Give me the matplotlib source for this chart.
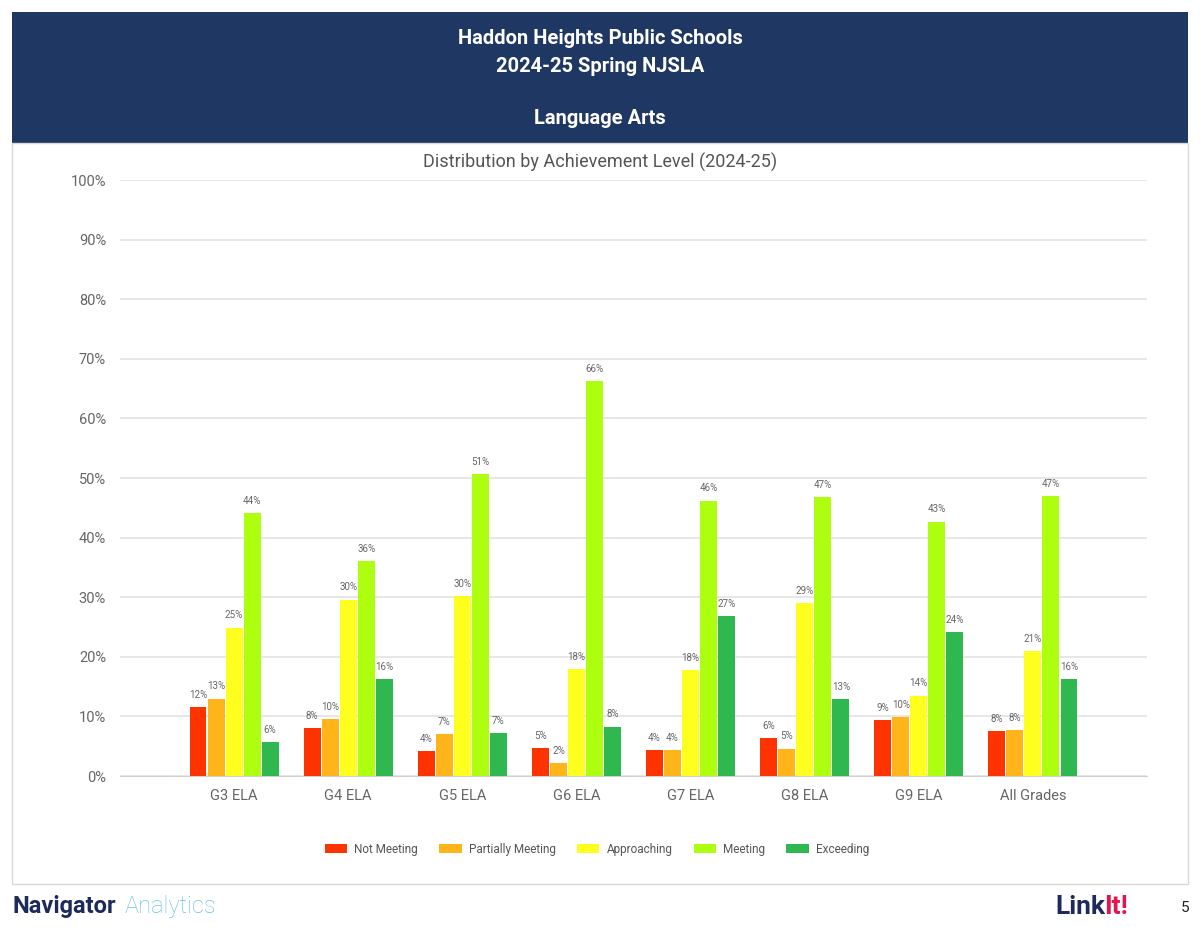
import matplotlib.pyplot as plt
from matplotlib.patches import Rectangle
import numpy as np

plt.rcParams["font.family"] = ["Roboto", "DejaVu Sans"]

CATEGORIES = ["G3 ELA", "G4 ELA", "G5 ELA", "G6 ELA", "G7 ELA", "G8 ELA", "G9 ELA", "All Grades"]
LEVELS = ["Not Meeting", "Partially Meeting", "Approaching", "Meeting", "Exceeding"]
NOT_MEETING = [11.6, 8.0, 4.2, 4.75, 4.3, 6.3, 9.4, 7.6]
PARTIALLY_MEETING = [13.0, 9.6, 7.0, 2.2, 4.3, 4.6, 9.95, 7.7]
APPROACHING = [24.9, 29.6, 30.2, 17.9, 17.8, 29.0, 13.5, 21.0]
MEETING = [44.1, 36.0, 50.7, 66.2, 46.2, 46.8, 42.7, 47.0]
EXCEEDING = [5.65, 16.2, 7.2, 8.3, 26.8, 12.9, 24.1, 16.2]
Y_TICKS = [0, 10, 20, 30, 40, 50, 60, 70, 80, 90, 100]

COLORS = ["#FF3300", "#FFB419", "#FFFF1F", "#AEFF0F", "#2EB84F"]
SERIES = [NOT_MEETING, PARTIALLY_MEETING, APPROACHING, MEETING, EXCEEDING]

fig = plt.figure(figsize=(12.0, 9.27), dpi=100)
W, H = 1200, 927


def fx(px):
    return px / W


def fy(py):
    return 1 - py / H


# header band and chart panel
fig.patches.append(Rectangle((fx(12), fy(143)), fx(1176), 131 / H, transform=fig.transFigure,
                             facecolor="#1F3763", edgecolor="none", zorder=0))
fig.patches.append(Rectangle((fx(12), fy(884)), fx(1176), 741 / H, transform=fig.transFigure,
                             facecolor="none", edgecolor="#D9D9D9", linewidth=1.0, zorder=0))

for text, py in [("Haddon Heights Public Schools", 38), ("2024-25 Spring NJSLA", 66), ("Language Arts", 119)]:
    fig.text(0.5, fy(py), text, ha="center", va="center", color="white",
             fontsize=14.5, fontweight="bold")

fig.text(0.5, fy(162), "Distribution by Achievement Level (2024-25)", ha="center", va="center",
         color="#555555", fontsize=13)

ax = fig.add_axes((fx(120), fy(776), fx(1147 - 120), (776 - 180) / H))
ax.patch.set_alpha(0)
x = np.arange(len(CATEGORIES))
step = 0.158
width = 0.148
for i, (values, color, label) in enumerate(zip(SERIES, COLORS, LEVELS)):
    pos = x + (i - 2) * step
    ax.bar(pos, values, width=width, color=color, label=label, zorder=3)
    for xp, v in zip(pos, values):
        ax.text(xp, v + 1.2, f"{v:.0f}%", ha="center", va="bottom", fontsize=7, color="#666666")

ax.set_xlim(-1, 8)
ax.set_ylim(0, 100)
ax.set_yticks(Y_TICKS, [f"{t}%" for t in Y_TICKS])
ax.set_xticks(x, CATEGORIES)
ax.grid(axis="y", color="#E3E3E3", linewidth=1.2, zorder=0)
ax.set_axisbelow(True)
for side in ["top", "right", "left"]:
    ax.spines[side].set_visible(False)
ax.spines["bottom"].set_color("#D0D0D0")
ax.tick_params(axis="both", length=0, colors="#666666", labelsize=10.5)
ax.tick_params(axis="y", pad=10)
ax.tick_params(axis="x", pad=9)

ax.legend(loc="center", bbox_to_anchor=(fx(597), fy(849)), bbox_transform=fig.transFigure,
          ncol=5, frameon=False, fontsize=8.5, labelcolor="#555555",
          handlelength=1.9, handleheight=0.8, columnspacing=1.8, handletextpad=0.6)

# footer
fig.text(fx(12), fy(907), "Navigator", ha="left", va="center", color="#1F2A5C",
         fontsize=17, fontweight="bold")
fig.text(fx(125), fy(907), "Analytics", ha="left", va="center", color="#6EC3E0",
         fontsize=17, fontweight="light")
fig.text(fx(1055), fy(907), "Link", ha="left", va="center", color="#1F2A5C",
         fontsize=19, fontweight="bold")
fig.text(fx(1104), fy(907), "It!", ha="left", va="center", color="#E0164F",
         fontsize=19, fontweight="bold")
fig.text(fx(1185), fy(908), "5", ha="center", va="center", color="#222222", fontsize=11)

fig.savefig("out.png", dpi=100)
